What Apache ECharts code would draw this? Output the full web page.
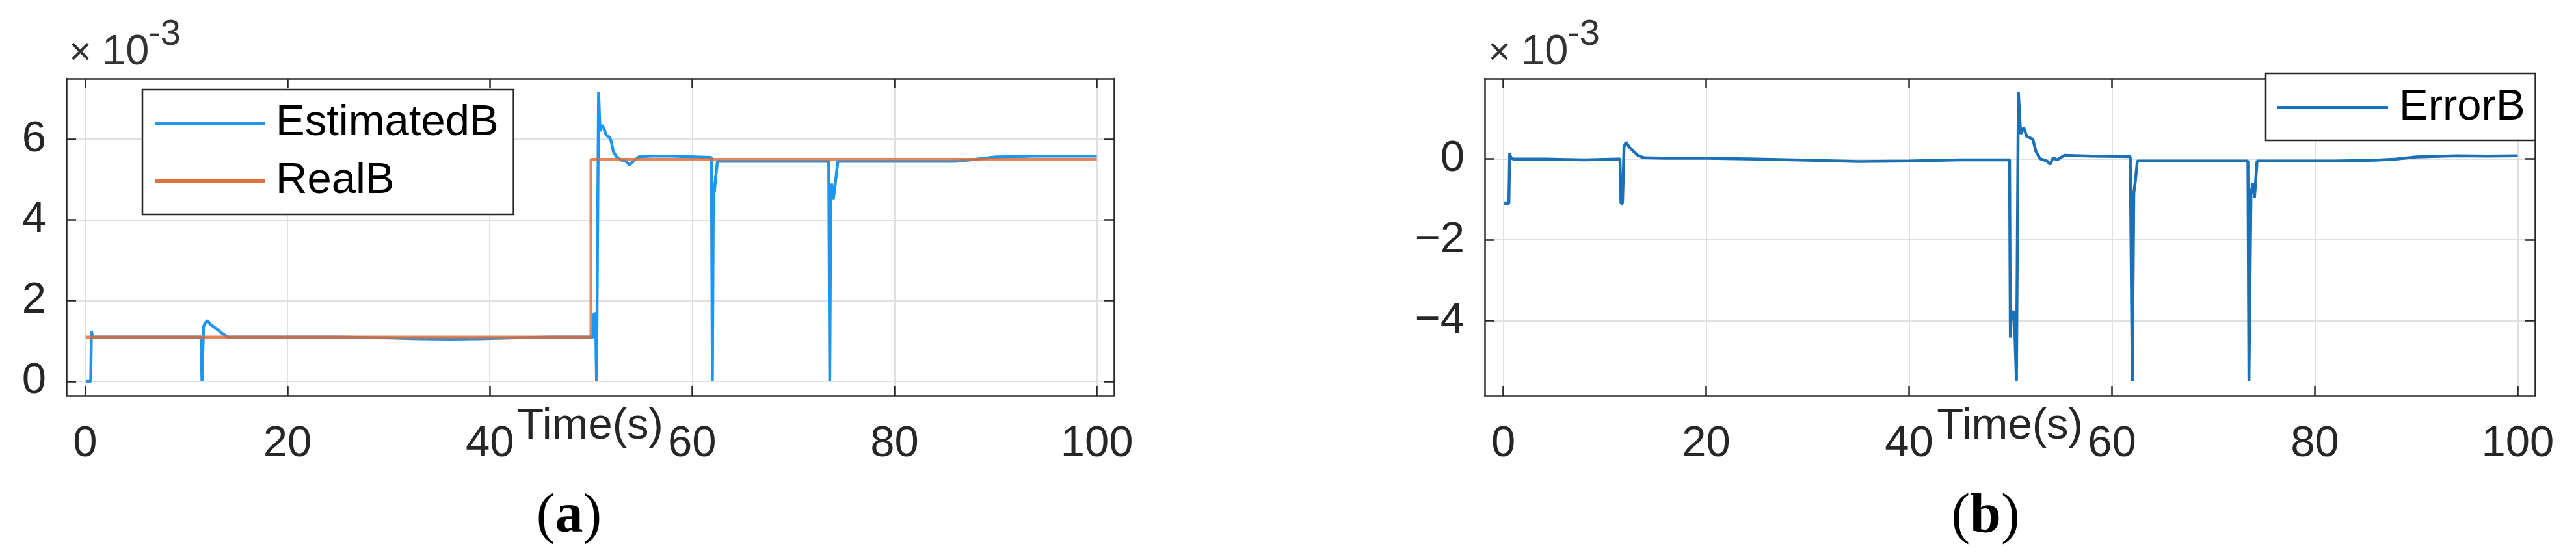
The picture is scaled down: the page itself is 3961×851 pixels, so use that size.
<!DOCTYPE html>
<html>
<head>
<meta charset="utf-8">
<script src="https://cdn.jsdelivr.net/npm/echarts@6.0.0/dist/echarts.min.js"></script>
<style>
  html, body { margin: 0; padding: 0; background: #fff; }
  #chart { width: 3961px; height: 851px; }
</style>
</head>
<body>
<div id="chart"></div>
<script>
// ---- Data (in units of 10^-3) ----
const estTime = [0.1, 0.55, 0.62, 0.72, 0.85, 3, 6, 9, 11.45, 11.55, 11.7, 11.85, 12.1, 12.35, 13.0, 13.6, 14.1, 18, 25, 30, 33, 36, 39, 42, 46, 49.9, 50.2, 50.3, 50.45, 50.55, 50.65, 50.75, 50.9, 51.1, 51.3, 51.5, 51.8, 52.0, 52.2, 52.5, 53.0, 53.4, 53.8, 54.3, 54.8, 56, 58, 61.9, 62.0, 62.1, 62.2, 62.3, 62.5, 65, 70, 73.5, 73.6, 73.7, 73.8, 73.95, 74.1, 74.4, 78, 82, 86, 88, 90, 94, 100];
const estValue = [0, 0, 1.25, 1.12, 1.1, 1.1, 1.1, 1.1, 1.1, 0, 1.35, 1.45, 1.51, 1.42, 1.3, 1.18, 1.1, 1.1, 1.1, 1.08, 1.06, 1.05, 1.06, 1.08, 1.1, 1.1, 1.1, 1.7, 1.65, 0, 0, 7.17, 6.2, 6.35, 6.25, 6.1, 6.05, 5.95, 5.7, 5.57, 5.48, 5.46, 5.36, 5.48, 5.57, 5.58, 5.58, 5.55, 0, 4.9, 4.7, 5.0, 5.45, 5.45, 5.45, 5.45, 0, 4.6, 4.9, 4.5, 4.8, 5.45, 5.45, 5.45, 5.45, 5.5, 5.56, 5.58, 5.58];

const realTime = [0.05, 50.0, 50.0, 100];
const realValue = [1.1, 1.1, 5.5, 5.5];

const errTime = [0.1, 0.55, 0.63, 0.75, 1.0, 4, 8, 11.3, 11.5, 11.6, 11.75, 11.9, 12.1, 12.4, 12.8, 13.3, 13.9, 16, 20, 25, 30, 35, 40, 45, 49.9, 49.98, 50.1, 50.3, 50.4, 50.58, 50.77, 51.0, 51.3, 51.6, 52.2, 52.5, 52.9, 53.6, 53.9, 54.2, 54.6, 55.3, 58, 61.8, 62.0, 62.15, 62.3, 62.5, 65, 70, 73.4, 73.5, 73.7, 73.9, 74.05, 74.3, 78, 82, 86, 88, 90, 94, 97, 100];
const errValue = [-1.1, -1.1, 0.15, 0.02, 0.0, 0.0, -0.02, 0.0, 0.0, -1.1, -1.1, 0.3, 0.42, 0.3, 0.2, 0.08, 0.03, 0.02, 0.02, 0.0, -0.03, -0.06, -0.05, -0.02, -0.02, -4.42, -3.78, -3.78, -4.1, -5.49, 1.66, 0.62, 0.78, 0.56, 0.49, 0.19, 0.01, -0.05, -0.13, 0.03, -0.02, 0.09, 0.07, 0.06, -5.49, -0.85, -0.55, -0.05, -0.05, -0.05, -0.05, -5.49, -0.85, -0.6, -0.95, -0.05, -0.05, -0.05, -0.03, 0.0, 0.05, 0.08, 0.07, 0.08];

// ---- Tick labels ----
const xTicks = [0, 20, 40, 60, 80, 100];
const yTicksA = [0, 2, 4, 6];
const yTicksB = [-4, -2, 0];
const xName = 'Time(s)';
const seriesNames = ['EstimatedB', 'RealB', 'ErrorB'];
const panelLabels = ['a', 'b'];

// ---- Styling ----
const SANS = '"Liberation Sans", Arial, Helvetica, sans-serif';
const SERIF = '"Liberation Serif", "Times New Roman", serif';
const AX = '#262626';
const FS = 67;

function zip(t, v) { return t.map((x, i) => [x, v[i]]); }
function fmt(v) { return String(v).replace('-', '\u2212'); }

function makeX(grid, min, max, main) {
  return {
    type: 'value', gridIndex: grid, position: main ? 'bottom' : 'top',
    min: min, max: max,
    name: main ? xName : '', nameLocation: 'middle', nameGap: 14, nameMoveOverlap: false,
    nameTextStyle: { fontSize: FS, fontFamily: SANS, color: AX },
    axisLine: { show: true, onZero: false, lineStyle: { color: AX, width: 2.5 } },
    axisTick: { show: true, inside: true, length: 15, customValues: xTicks, lineStyle: { color: AX, width: 2.5 } },
    axisLabel: { show: main, margin: 41, fontSize: FS, fontFamily: SANS, color: AX, customValues: xTicks, formatter: fmt },
    splitLine: { show: main, lineStyle: { color: '#e0e0e0', width: 2 } },
    splitNumber: 5
  };
}
function makeY(grid, min, max, ticks, main) {
  return {
    type: 'value', gridIndex: grid, position: main ? 'left' : 'right',
    min: min, max: max, splitNumber: 4,
    axisLine: { show: true, onZero: false, lineStyle: { color: AX, width: 2.5 } },
    axisTick: { show: true, inside: true, length: 15, customValues: ticks, lineStyle: { color: AX, width: 2.5 } },
    axisLabel: { show: main, margin: 31, fontSize: FS, fontFamily: SANS, color: AX, customValues: ticks, formatter: fmt },
    splitLine: { show: main, lineStyle: { color: '#e0e0e0', width: 2 } }
  };
}

const chart = echarts.init(document.getElementById('chart'), null, { renderer: 'canvas' });

const expText = (x0) => [
  { type: 'text', style: { x: x0 - 2, y: 52, text: '\u00d7', fontSize: 60, fontFamily: SANS, fill: '#333', textVerticalAlign: 'top' } },
  { type: 'text', style: { x: x0 + 49, y: 49, text: '10', fontSize: 65, fontFamily: SANS, fill: '#333', textVerticalAlign: 'top' } },
  { type: 'text', style: { x: x0 + 120, y: 26, text: '-3', fontSize: 56, fontFamily: SANS, fill: '#333', textVerticalAlign: 'top' } }
];
const panelText = (x, label) => ({
  type: 'text', style: {
    x: x, y: 796, text: '{p|(}{b|' + label + '}{p|)}', textAlign: 'center', textVerticalAlign: 'middle',
    rich: { p: { fontSize: 86, fontFamily: SERIF, fill: '#000' }, b: { fontSize: 86, fontFamily: SERIF, fontWeight: 'bold', fill: '#000' } }
  }
});

const option = {
  backgroundColor: '#ffffff',
  animation: false,
  grid: [
    { left: 102, top: 121, width: 1611, height: 488, outerBoundsMode: 'none' },
    { left: 2283, top: 121, width: 1615, height: 488, outerBoundsMode: 'none' }
  ],
  xAxis: [
    makeX(0, -1.86, 101.7, true), makeX(0, -1.86, 101.7, false),
    makeX(1, -1.83, 101.7, true), makeX(1, -1.83, 101.7, false)
  ],
  yAxis: [
    makeY(0, -0.354, 7.5, yTicksA, true), makeY(0, -0.354, 7.5, yTicksA, false),
    makeY(1, -5.86, 1.99, yTicksB, true), makeY(1, -5.86, 1.99, yTicksB, false)
  ],
  legend: [
    {
      data: [seriesNames[0], seriesNames[1]], orient: 'vertical', left: 219, top: 138,
      padding: [18, 23, 18, 20], itemGap: 22, itemWidth: 169, itemHeight: 5, icon: 'rect',
      backgroundColor: '#ffffff', borderColor: AX, borderWidth: 2.5, selectedMode: false,
      textStyle: { fontSize: FS, fontFamily: SANS, color: '#000', padding: [0, 0, 0, 11] }
    },
    {
      data: [seriesNames[2]], orient: 'vertical', left: 3484, top: 113,
      padding: [19, 16, 17, 17], itemGap: 22, itemWidth: 171, itemHeight: 5, icon: 'rect',
      backgroundColor: '#ffffff', borderColor: AX, borderWidth: 2.5, selectedMode: false,
      textStyle: { fontSize: FS, fontFamily: SANS, color: '#000', padding: [0, 0, 0, 12] }
    }
  ],
  series: [
    {
      name: seriesNames[0], type: 'line', xAxisIndex: 0, yAxisIndex: 0,
      data: zip(estTime, estValue), showSymbol: false, symbol: 'none',
      color: '#1E96F0', lineStyle: { color: '#1E96F0', width: 4.5 }, z: 2
    },
    {
      name: seriesNames[1], type: 'line', xAxisIndex: 0, yAxisIndex: 0,
      data: zip(realTime, realValue), showSymbol: false, symbol: 'none',
      color: '#E0733F', lineStyle: { color: '#DD6A34', width: 4.5, opacity: 0.82 }, z: 3
    },
    {
      name: seriesNames[2], type: 'line', xAxisIndex: 2, yAxisIndex: 2,
      data: zip(errTime, errValue), showSymbol: false, symbol: 'none',
      color: '#1A71B8', lineStyle: { color: '#1A71B8', width: 4.5 }, z: 2
    }
  ],
  graphic: [].concat(expText(108), expText(2290), [panelText(875, panelLabels[0]), panelText(3053, panelLabels[1])])
};
chart.setOption(option);
</script>
</body>
</html>
